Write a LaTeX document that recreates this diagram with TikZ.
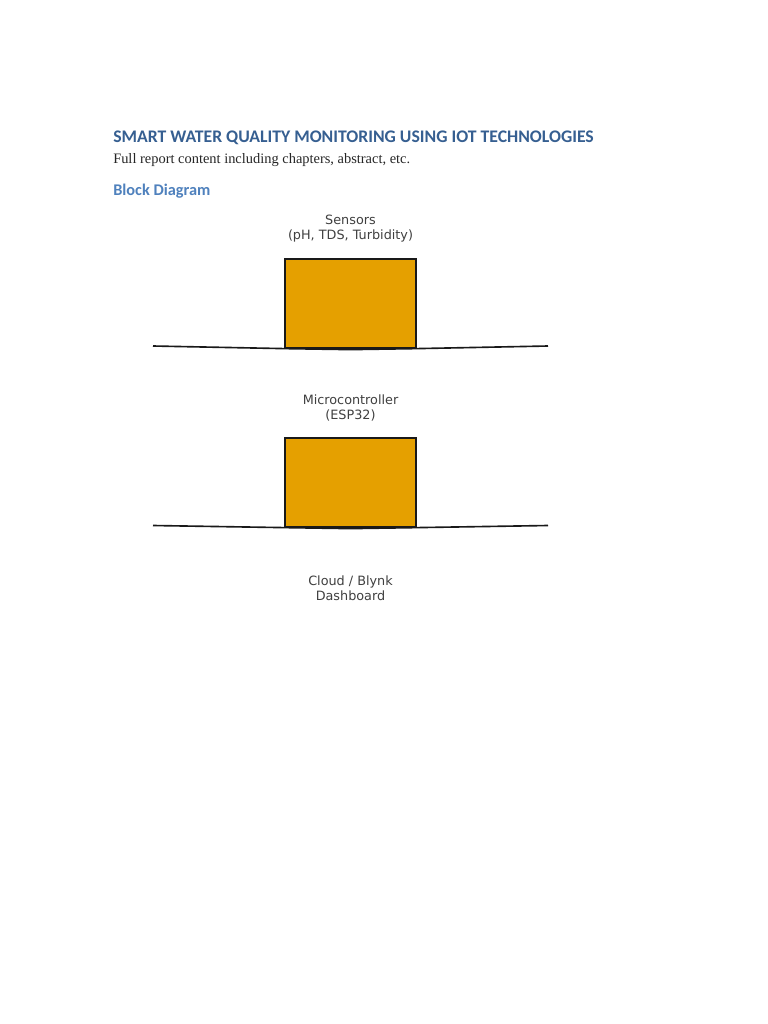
\documentclass[tikz,border=0pt]{standalone}
\usepackage{fontspec}
\setmainfont{Liberation Serif}
\newfontfamily\headfont{Carlito}
\newfontfamily\figfont{DejaVu Sans}
\usepackage{tikz}
\usetikzlibrary{positioning}
\definecolor{titleblue}{HTML}{365F91}
\definecolor{headblue}{HTML}{4F81BD}
\definecolor{boxorange}{HTML}{E5A000}
\definecolor{figgray}{HTML}{404040}
\tikzstyle{heading} = [anchor=base west, inner sep=0pt, text=titleblue,
font=\headfont\bfseries\fontsize{14.1}{17}\selectfont]
\tikzstyle{subheading} = [anchor=base west, inner sep=0pt, text=headblue,
font=\headfont\bfseries\fontsize{13}{16}\selectfont]
\tikzstyle{bodytext} = [anchor=base west, inner sep=0pt, text=black!85,
font=\fontsize{11.5}{13}\selectfont]
\tikzstyle{block} = [rectangle, minimum width=104.4pt, minimum height=70.9pt, inner sep=0pt,
draw=black!90, line width=1pt, fill=boxorange]
\tikzstyle{blocktext} = [align=center, text=figgray, font=\figfont\fontsize{10.2}{12}\selectfont]
\tikzstyle{ground} = [line width=1.3pt, black!90, line join=round]

\begin{document}
\begin{tikzpicture}[x=0.797pt, y=-0.797pt]
                 \fill [white] (0,0) rectangle (768,1024);
                 \useasboundingbox (0,0) rectangle (768,1024);
                 \node (title) [heading] at (113,142) {SMART WATER QUALITY MONITORING USING IOT TECHNOLOGIES};
                 \node (intro) [bodytext] at (113,163) {Full report content including chapters, abstract, etc.};
                 \node (bdhead) [subheading] at (113,195) {Block Diagram};
                 % blocks
                 \node (sensors) [block] at (350.5,303.5) {};
                 \node (sensorstext) [blocktext, above=9.5pt of sensors] {Sensors\\(pH, TDS, Turbidity)};
                 \node (micro) [block] at (350.5,482.5) {};
                 \node (microtext) [blocktext, above=9.5pt of micro] {Microcontroller\\(ESP32)};
                 \node (cloudtext) [blocktext] at (350.5,588) {Cloud / Blynk\\Dashboard};
                 % ground lines
                 \coordinate (g1w) at (153,346);
                 \coordinate (g1e) at (548,346);
                 \coordinate (g2w) at (153,525.5);
                 \coordinate (g2e) at (548,525.5);
                 \draw [ground] (g1w) -- (sensors.south west) -- ([yshift=-0.8pt]sensors.south)
                     -- (sensors.south east) -- (g1e);
                 \draw [ground] (g2w) -- (micro.south west) -- ([yshift=-0.8pt]micro.south)
                     -- (micro.south east) -- (g2e);
             \end{tikzpicture}
\end{document}
